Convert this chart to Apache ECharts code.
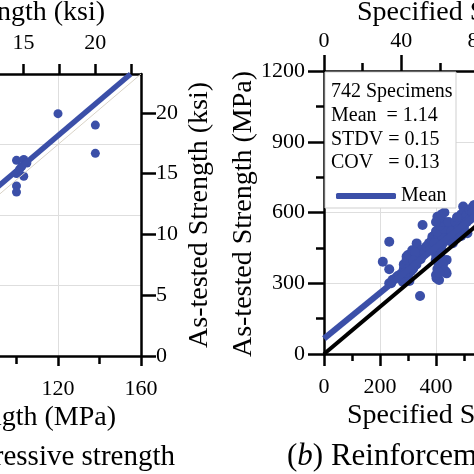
<!DOCTYPE html>
<html><head><meta charset="utf-8">
<script src="https://cdn.jsdelivr.net/npm/echarts@6/dist/echarts.min.js"></script>
<style>html,body{margin:0;padding:0;background:#fff}#c{width:474px;height:474px}</style>
</head><body><div id="c"></div>
<script>
// ---- data (MPa) ----
var KSI = 6.895;
var leftPoints = [[120,137.5],[138,131],[138,115],[100,111],[103.5,111.5],[105,109.5],[103.5,102],[100,103.5],[100,96.5],[100,93],[101.5,106],[102.5,107.5]];
var leftMeanLine = [[80,85],[155,160]];
var leftUnityLine = [[0,0],[160,160]];
var rightPoints = [[233,476],[210,391],[233,359],[233,300],[343,246],[352,547],[295,413],[295,356],[331,469],[414,582],[497,625],[438,342],[438,399],[402,321],[486,554],[405,582],[411,526],[298,328],[435,349],[411,314],[452,540],[500,575],[399,399],[387,497],[321,370],[464,483],[512,512],[536,632],
 [240,300],[245,315],[255,320],[262,330],[270,335],[280,345],[285,360],[290,372],[295,385],[300,395],[302,345],[308,352],[310,400],[315,408],[318,362],[325,382],[330,420],[335,410],[340,432],[345,402],[350,442],[355,422],[360,432],[365,456],[370,452],[375,470],[380,442],[385,482],[390,462],[395,500],[400,422],[400,480],[400,520],[405,452],[408,500],[410,550],[415,470],[418,530],[420,442],[425,510],[430,490],[432,560],[440,522],[445,482],[450,530],[455,500],[460,550],[470,540],[480,562],[490,592],[500,602],[510,590],[520,612],[530,622],
 [405,340],[410,360],[415,380],[420,400],[300,420],[305,310],
 [400,335],[405,360],[410,380],[402,400],[415,420],[420,440],[408,455],[425,470],[412,490],[418,505],[405,520],[428,530],[415,545],[422,560],[410,575],[420,592],[430,600],[400,560],[395,470],[425,380],[430,355],[412,345],
 [282,305],[290,320],[300,335],[310,350],[285,380],[295,400],[305,420],[315,440],[325,430],[320,395],[330,380],[300,360],[290,345],
 [445,560],[455,520],[465,500],[470,560],[480,530],[490,500],[500,540],[510,560],[520,570],[530,600],[460,470],[475,580]];
var rightMeanLine = [[0,65],[1170,1200]];
var rightUnityLine = [[0,0],[1200,1200]];
var ksiMajor = [0,5,10,15,20];
var ksiMinor = [2.5,7.5,12.5,17.5,22.5];
var statLines = ['742 Specimens','Mean  = 1.14','STDV = 0.15','COV   = 0.13'];

var F = 'Liberation Serif';
var BLUE = '#3b4fa8';
var AX = {lineStyle:{color:'#000',width:2.5}, onZero:false};
function tick(len){return {show:true,inside:false,length:len,lineStyle:{color:'#000',width:2.5}};}
function minor(len){return {show:true,splitNumber:2,length:len,lineStyle:{color:'#000',width:2.5}};}
function plain(v){return String(v);}
function lab(m){return {fontFamily:F,fontSize:22,color:'#000',margin:m,formatter:plain};}
var SPL = {show:true,lineStyle:{color:'#dedede',width:1}};

var chart = echarts.init(document.getElementById('c'));
var g = [];
g.push({type:'rect',shape:{x:325,y:72,width:131,height:136},style:{fill:'#fff',stroke:'#cfcfcf',lineWidth:1},z:100});
statLines.forEach(function(t,i){
  g.push({type:'text',x:331,y:92+i*23.7,style:{text:t,font:'20px '+F,fill:'#000',textVerticalAlign:'middle'},z:101});
});
function txt(t,x,y,align,size,rot){
  return {type:'text',x:x,y:y,rotation:rot||0,style:{text:t,font:size+'px '+F,fill:'#000',textAlign:align,textVerticalAlign:'middle'},z:50};
}
g.push(txt('Specified Strength (ksi)',105,13,'right',28));
g.push(txt('Specified Strength (MPa)',116,418,'right',28));
g.push({type:'text',x:175,y:457,style:{text:'({it|a}) Concrete compressive strength',font:'29px '+F,fill:'#000',textAlign:'right',textVerticalAlign:'middle',rich:{it:{fontStyle:'italic',fontFamily:F,fontSize:29}}},z:50});
g.push(txt('As-tested Strength (ksi)',200,215,'center',28,Math.PI/2));
g.push(txt('Specified Strength (ksi)',357,13,'left',28));
g.push(txt('Specified Strength (MPa)',347,416,'left',28));
g.push({type:'text',x:287,y:457,style:{text:'({it|b}) Reinforcement strength',font:'31px '+F,fill:'#000',textAlign:'left',textVerticalAlign:'middle',rich:{it:{fontStyle:'italic',fontFamily:F,fontSize:31}}},z:50});
g.push(txt('As-tested Strength (MPa)',244,214,'center',28,Math.PI/2));

chart.setOption({
  animation:false,
  backgroundColor:'#fff',
  grid:[{left:-191,top:74,width:332,height:282,outerBoundsMode:'none',containLabel:false},
        {left:324,top:71,width:336,height:283,outerBoundsMode:'none',containLabel:false}],
  xAxis:[
    {gridIndex:0,position:'bottom',type:'value',min:0,max:160,interval:40,axisLine:AX,axisTick:tick(10),minorTick:minor(8),axisLabel:lab(22),splitLine:SPL},
    {gridIndex:0,position:'top',type:'value',min:0,max:160/KSI,axisLine:AX,
      axisTick:{show:true,length:10,customValues:ksiMajor.concat(ksiMinor),lineStyle:{color:'#000',width:2.5}},
      axisLabel:{fontFamily:F,fontSize:22,color:'#000',margin:20,customValues:ksiMajor,formatter:plain},splitLine:{show:false}},
    {gridIndex:1,position:'bottom',type:'value',min:0,max:1200,interval:200,axisLine:AX,axisTick:tick(12),minorTick:minor(7),axisLabel:lab(22),splitLine:SPL},
    {gridIndex:1,position:'top',type:'value',min:0,max:1200/KSI,interval:40,axisLine:AX,axisTick:tick(16),minorTick:minor(8),axisLabel:lab(19),splitLine:{show:false}}
  ],
  yAxis:[
    {gridIndex:0,position:'left',type:'value',min:0,max:160,interval:40,axisLine:AX,axisTick:tick(10),axisLabel:lab(10),splitLine:SPL},
    {gridIndex:0,position:'right',type:'value',min:0,max:160/KSI,axisLine:AX,
      axisTick:{show:true,length:15,customValues:ksiMajor,lineStyle:{color:'#000',width:2.5}},
      axisLabel:{fontFamily:F,fontSize:22,color:'#000',margin:15,customValues:ksiMajor,formatter:plain},splitLine:{show:false}},
    {gridIndex:0,position:'right',type:'value',min:0,max:160/KSI,axisLine:{show:false},
      axisTick:{show:true,length:8,customValues:ksiMinor,lineStyle:{color:'#000',width:2.5}},
      axisLabel:{show:false},splitLine:{show:false}},
    {gridIndex:1,position:'left',type:'value',min:0,max:1200,interval:300,axisLine:AX,axisTick:tick(16),minorTick:minor(8),axisLabel:lab(19),splitLine:SPL}
  ],
  legend:{show:true,data:['Mean'],left:331,top:181,icon:'roundRect',itemWidth:60,itemHeight:6,itemGap:6,z:102,
    textStyle:{fontFamily:F,fontSize:20,color:'#000'},selectedMode:false},
  graphic:g,
  series:[
    {type:'line',xAxisIndex:0,yAxisIndex:0,data:leftUnityLine,symbol:'none',lineStyle:{color:'#d9d3c7',width:1},silent:true},
    {type:'line',xAxisIndex:0,yAxisIndex:0,data:leftMeanLine,symbol:'none',lineStyle:{color:BLUE,width:5.5},silent:true},
    {type:'scatter',xAxisIndex:0,yAxisIndex:0,data:leftPoints,symbolSize:9,itemStyle:{color:BLUE,opacity:1}},
    {type:'scatter',xAxisIndex:2,yAxisIndex:3,data:rightPoints,symbolSize:10,itemStyle:{color:BLUE,opacity:1}},
    {name:'Mean',type:'line',xAxisIndex:2,yAxisIndex:3,data:rightMeanLine,symbol:'none',color:BLUE,itemStyle:{color:BLUE},lineStyle:{color:BLUE,width:6},silent:true},
    {type:'line',xAxisIndex:2,yAxisIndex:3,data:rightUnityLine,symbol:'none',lineStyle:{color:'#000',width:4},silent:true}
  ]
});
</script></body></html>
